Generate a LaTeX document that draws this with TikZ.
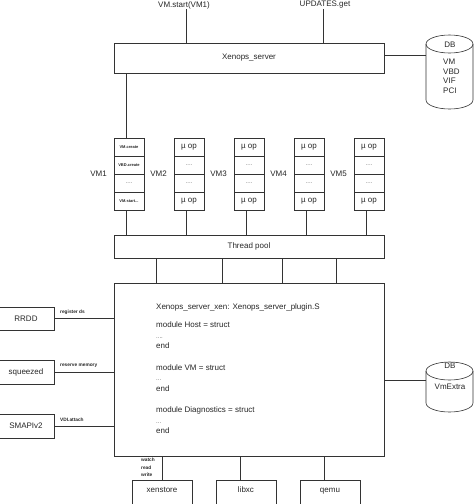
\documentclass[tikz,border=0pt]{standalone}
\usepackage{fontspec}
\setmainfont{Liberation Sans}
\usetikzlibrary{positioning}

\begin{document}
\begin{tikzpicture}[x=1pt, y=-1pt, node distance=30pt]
  \tikzset{
    wire/.style={draw=black!80, line width=0.6pt},
    box/.style={wire, inner sep=0pt, outer sep=0pt, text=black!85,
                font=\fontsize{8}{9}\selectfont},
    cell/.style={box, minimum width=30pt, minimum height=18pt},
    cellop/.style={cell, font=\fontsize{4}{5}\selectfont\bfseries},
    dots/.style={cell, text=black!60, font=\fontsize{6}{6}\selectfont},
    lbl/.style={inner sep=0pt, text=black!85, font=\fontsize{8}{9}\selectfont},
    call/.style={inner sep=0pt, text=black!85, font=\fontsize{4.8}{7.5}\selectfont\bfseries},
    db/.style={inner sep=0pt, outer sep=0pt, minimum width=47pt}}
  \useasboundingbox (0,0) rectangle (474,504);
  \clip (0,0) rectangle (474,504);

  % server and its callers
  \node[box, minimum width=270pt, minimum height=30pt] (xen) at (249,58) {Xenops\_server};
  \node[lbl] (start) at (184,5) {VM.start(VM1)};
  \node[lbl] (upd) at (325,5) {UPDATES.get};
  \draw[wire] (start.south -| 186,0) -- (xen.north -| 186,0);
  \draw[wire] (upd.south -| 323,0) -- (xen.north -| 323,0);

  % stores drawn as cylinders
  \node[db, minimum height=74pt] (db1) at (449.5,72) {};
  \node[db, minimum height=50pt] (db2) at (449.5,387) {};
  \foreach \d in {db1,db2} {
    \draw[wire] ([yshift=-9pt]\d.north west) -- ([yshift=9pt]\d.south west)
      arc[start angle=180, end angle=360, x radius=23.5pt, y radius=9pt]
      -- ([yshift=-9pt]\d.north east)
      arc[start angle=0, end angle=180, x radius=23.5pt, y radius=9pt] -- cycle;
    \draw[wire] ([yshift=-9pt]\d.north west)
      arc[start angle=180, end angle=360, x radius=23.5pt, y radius=9pt];}
  \node[lbl] (db1t) at (450,45) {DB};
  \node[lbl, align=left, anchor=north west, font=\fontsize{8}{9.5}\selectfont]
    (db1c) at (443,59) {VM\\VBD\\VIF\\PCI};
  \draw[wire] (xen.east |- 0,55) -- (db1.west |- 0,55);

  % queues of the VMs
  \node[cellop] (vm1a) at (129,147) {VM.create};
  \node[cellop, below=0pt of vm1a] (vm1b) {VBD.create};
  \node[dots, below=0pt of vm1b] (vm1c) {....};
  \node[cellop, below=0pt of vm1c] (vm1d) {VM.start...};
  \foreach \v/\p in {2/1,3/2,4/3,5/4} {
    \node[cell, right=of vm\p a] (vm\v a) {µ op};
    \node[dots, below=0pt of vm\v a] (vm\v b) {....};
    \node[dots, below=0pt of vm\v b] (vm\v c) {....};
    \node[cell, below=0pt of vm\v c] (vm\v d) {µ op};}
  \foreach \v in {1,...,5}
    \node[lbl, left=7pt of vm\v b.south west] (lvm\v) {VM\v};
  \draw[wire] (xen.south -| 126,0) -- (vm1a.north -| 126,0);

  % thread pool
  \node[box, minimum width=270pt, minimum height=23pt] (pool) at (249,246.5) {Thread pool};
  \foreach \v in {1,...,5}
    \draw[wire] ([xshift=-3pt]vm\v d.south) -- ([xshift=-3pt]vm\v d.south |- pool.north);

  % backend plugin
  \node[box, minimum width=270pt, minimum height=173pt] (main) at (249,369.5) {};
  \foreach \x in {156,222,282,336}
    \draw[wire] (pool.south -| \x,0) -- (main.north -| \x,0);
  \node[lbl, align=left, anchor=north west, font=\fontsize{8}{10.6}\selectfont] (code) at (156,303)
    {Xenops\_server\_xen: Xenops\_server\_plugin.S\\[8pt]
     module Host = struct\\
     \textcolor{black!65}{\fontsize{6}{10.6}\selectfont ....}\\
     end\\[10.6pt]
     module VM = struct\\
     \textcolor{black!65}{\fontsize{6}{10.6}\selectfont ...}\\
     end\\[10.6pt]
     module Diagnostics = struct\\
     \textcolor{black!65}{\fontsize{6}{10.6}\selectfont ...}\\
     end};

  % services on the left
  \node[box, minimum width=56pt, minimum height=23pt] (rrdd) at (26,318.5) {RRDD};
  \node[box, minimum width=56pt, minimum height=24pt] (sqz) at (26,372) {squeezed};
  \node[box, minimum width=56pt, minimum height=24pt] (smapi) at (26,426) {SMAPIv2};
  \foreach \s/\t in {rrdd/register ds, sqz/reserve memory, smapi/VDI.attach} {
    \draw[wire] (\s.east) -- (\s.east -| main.west);
    \node[call, above right=4pt and 6pt of \s.east] (c\s) {\t};}

  % extra store
  \node[lbl] (db2t) at (450,366) {DB};
  \node[lbl] (db2c) at (450,387) {VmExtra};
  \draw[wire] (main.east |- 0,380) -- (db2.west |- 0,380);

  % low level interfaces
  \node[box, minimum width=60pt, minimum height=28pt, text depth=8pt] (xs) at (162,494) {xenstore};
  \node[box, minimum width=60pt, minimum height=28pt, text depth=8pt] (lx) at (246,494) {libxc};
  \node[box, minimum width=60pt, minimum height=28pt, text depth=8pt] (qe) at (330,494) {qemu};
  \draw[wire] (xs.north) -- (xs.north |- main.south);
  \draw[wire] ([xshift=-6pt]lx.north) -- ([xshift=-6pt]lx.north |- main.south);
  \draw[wire] ([xshift=-6pt]qe.north) -- ([xshift=-6pt]qe.north |- main.south);
  \node[call, align=left, anchor=north east] (rw) at ([xshift=-7pt, yshift=-2pt]xs.north |- main.south)
    {watch\\read\\write};
\end{tikzpicture}
\end{document}
